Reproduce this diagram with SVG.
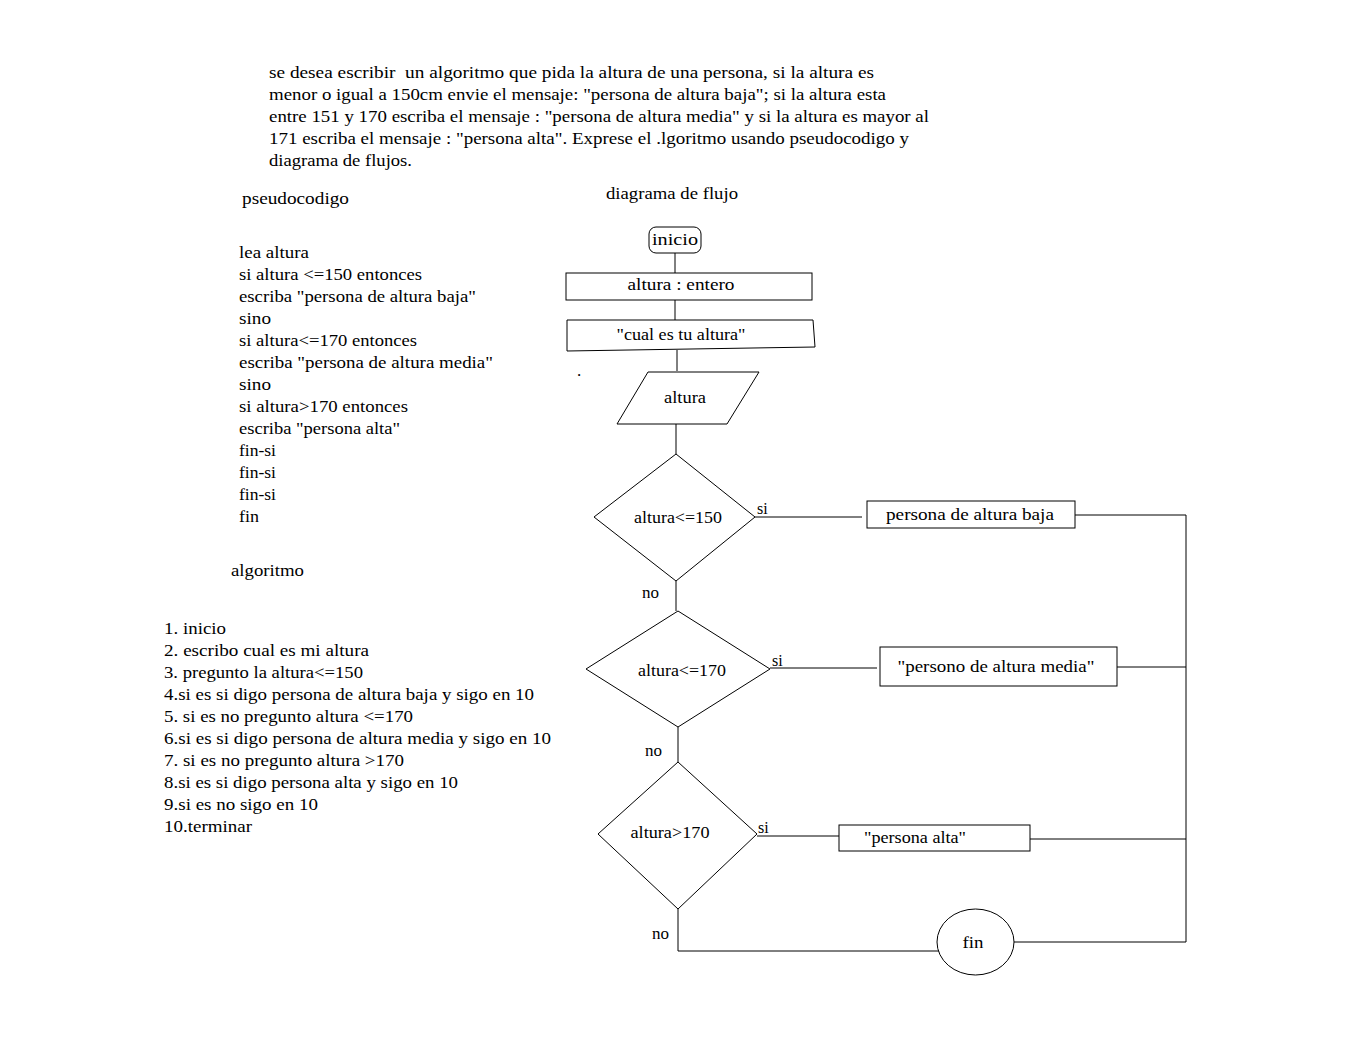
<svg xmlns="http://www.w3.org/2000/svg" width="1354" height="1057" viewBox="0 0 1354 1057">
<style>
text{font-family:"Liberation Serif","DejaVu Serif",serif;font-size:17px;fill:#000}
.c{text-anchor:middle}
.s{font-size:16px}
.sh{fill:#fff;stroke:#000;stroke-width:1}
.ln{fill:none;stroke:#000;stroke-width:1}
</style>
<rect width="1354" height="1057" fill="#fff"/>
<g id="enunciado">
<text x="269" y="78" textLength="605" lengthAdjust="spacingAndGlyphs" xml:space="preserve">se desea escribir  un algoritmo que pida la altura de una persona, si la altura es</text>
<text x="269" y="100" textLength="617" lengthAdjust="spacingAndGlyphs">menor o igual a 150cm envie el mensaje: "persona de altura baja"; si la altura esta</text>
<text x="269" y="122" textLength="660" lengthAdjust="spacingAndGlyphs">entre 151 y 170 escriba el mensaje : "persona de altura media" y si la altura es mayor al</text>
<text x="269" y="144" textLength="640" lengthAdjust="spacingAndGlyphs">171 escriba el mensaje : "persona alta". Exprese el .lgoritmo usando pseudocodigo y</text>
<text x="269" y="166" textLength="143" lengthAdjust="spacingAndGlyphs">diagrama de flujos.</text>
</g>
<g id="pseudocodigo">
<text x="242" y="204" textLength="107" lengthAdjust="spacingAndGlyphs">pseudocodigo</text>
<text x="239" y="258" textLength="70" lengthAdjust="spacingAndGlyphs">lea altura</text>
<text x="239" y="280" textLength="183" lengthAdjust="spacingAndGlyphs">si altura &lt;=150 entonces</text>
<text x="239" y="302" textLength="237" lengthAdjust="spacingAndGlyphs">escriba "persona de altura baja"</text>
<text x="239" y="324" textLength="32" lengthAdjust="spacingAndGlyphs">sino</text>
<text x="239" y="346" textLength="178" lengthAdjust="spacingAndGlyphs">si altura&lt;=170 entonces</text>
<text x="239" y="368" textLength="254" lengthAdjust="spacingAndGlyphs">escriba "persona de altura media"</text>
<text x="239" y="390" textLength="32" lengthAdjust="spacingAndGlyphs">sino</text>
<text x="239" y="412" textLength="169" lengthAdjust="spacingAndGlyphs">si altura&gt;170 entonces</text>
<text x="239" y="434" textLength="161" lengthAdjust="spacingAndGlyphs">escriba "persona alta"</text>
<text x="239" y="456" textLength="37" lengthAdjust="spacingAndGlyphs">fin-si</text>
<text x="239" y="478" textLength="37" lengthAdjust="spacingAndGlyphs">fin-si</text>
<text x="239" y="500" textLength="37" lengthAdjust="spacingAndGlyphs">fin-si</text>
<text x="239" y="522" textLength="20" lengthAdjust="spacingAndGlyphs">fin</text>
</g>
<g id="algoritmo">
<text x="231" y="576" textLength="73" lengthAdjust="spacingAndGlyphs">algoritmo</text>
<text x="164" y="634" textLength="62" lengthAdjust="spacingAndGlyphs">1. inicio</text>
<text x="164" y="656" textLength="205" lengthAdjust="spacingAndGlyphs">2. escribo cual es mi altura</text>
<text x="164" y="678" textLength="199" lengthAdjust="spacingAndGlyphs">3. pregunto la altura&lt;=150</text>
<text x="164" y="700" textLength="370" lengthAdjust="spacingAndGlyphs">4.si es si digo persona de altura baja y sigo en 10</text>
<text x="164" y="722" textLength="249" lengthAdjust="spacingAndGlyphs">5. si es no pregunto altura &lt;=170</text>
<text x="164" y="744" textLength="387" lengthAdjust="spacingAndGlyphs">6.si es si digo persona de altura media y sigo en 10</text>
<text x="164" y="766" textLength="240" lengthAdjust="spacingAndGlyphs">7. si es no pregunto altura &gt;170</text>
<text x="164" y="788" textLength="294" lengthAdjust="spacingAndGlyphs">8.si es si digo persona alta y sigo en 10</text>
<text x="164" y="810" textLength="154" lengthAdjust="spacingAndGlyphs">9.si es no sigo en 10</text>
<text x="164" y="832" textLength="88" lengthAdjust="spacingAndGlyphs">10.terminar</text>
</g>
<text x="606" y="199" textLength="132" lengthAdjust="spacingAndGlyphs">diagrama de flujo</text>
<text x="577" y="376">.</text>
<g id="connectors">
<path class="ln" d="M675 253V273"/>
<path class="ln" d="M675 300V320"/>
<path class="ln" d="M677 350V371"/>
<path class="ln" d="M676 424V454"/>
<path class="ln" d="M676 581V611"/>
<path class="ln" d="M678 727V762"/>
<path class="ln" d="M678 909V951H939"/>
<path class="ln" d="M755 517H862"/>
<path class="ln" d="M770 668H877"/>
<path class="ln" d="M757 836H839"/>
<path class="ln" d="M1075 515H1186V942H1014"/>
<path class="ln" d="M1117 667H1186"/>
<path class="ln" d="M1030 839H1186"/>
<text x="757" y="514" class="s">si</text>
<text x="772" y="666" class="s">si</text>
<text x="758" y="833" class="s">si</text>
<text x="642" y="598">no</text>
<text x="645" y="756">no</text>
<text x="652" y="939">no</text>
</g>
<g id="inicio">
<rect class="sh" x="649" y="227" width="52" height="26" rx="7"/>
<text x="675" y="245" class="c" textLength="46" lengthAdjust="spacingAndGlyphs">inicio</text>
</g>
<g id="declaracion">
<rect class="sh" x="566" y="273" width="246" height="27"/>
<text x="681" y="290" class="c" textLength="107" lengthAdjust="spacingAndGlyphs">altura : entero</text>
</g>
<g id="mensaje">
<path class="sh" d="M567 320H813L815 347L567 351Z"/>
<text x="681" y="340" class="c" textLength="129" lengthAdjust="spacingAndGlyphs">"cual es tu altura"</text>
</g>
<g id="lectura">
<path class="sh" d="M648 372H759L727 424H617Z"/>
<text x="685" y="403" class="c" textLength="42" lengthAdjust="spacingAndGlyphs">altura</text>
</g>
<g id="decision1">
<path class="sh" d="M676 454L755 517L676 581L594 517Z"/>
<text x="678" y="523" class="c" textLength="88" lengthAdjust="spacingAndGlyphs">altura&lt;=150</text>
</g>
<g id="baja">
<rect class="sh" x="867" y="501" width="208" height="27"/>
<text x="970" y="520" class="c" textLength="168" lengthAdjust="spacingAndGlyphs">persona de altura baja</text>
</g>
<g id="decision2">
<path class="sh" d="M678 611L770 669L678 727L586 669Z"/>
<text x="682" y="676" class="c" textLength="88" lengthAdjust="spacingAndGlyphs">altura&lt;=170</text>
</g>
<g id="media">
<rect class="sh" x="880" y="647" width="237" height="39"/>
<text x="996" y="672" class="c" textLength="197" lengthAdjust="spacingAndGlyphs">"persono de altura media"</text>
</g>
<g id="decision3">
<path class="sh" d="M678 762L757 834L678 909L598 834Z"/>
<text x="670" y="838" class="c" textLength="79" lengthAdjust="spacingAndGlyphs">altura&gt;170</text>
</g>
<g id="alta">
<rect class="sh" x="839" y="825" width="191" height="26"/>
<text x="915" y="843" class="c" textLength="102" lengthAdjust="spacingAndGlyphs">"persona alta"</text>
</g>
<g id="fin">
<ellipse class="sh" cx="975.5" cy="942" rx="38.5" ry="33"/>
<text x="973" y="948" class="c" textLength="21" lengthAdjust="spacingAndGlyphs">fin</text>
</g>
</svg>
